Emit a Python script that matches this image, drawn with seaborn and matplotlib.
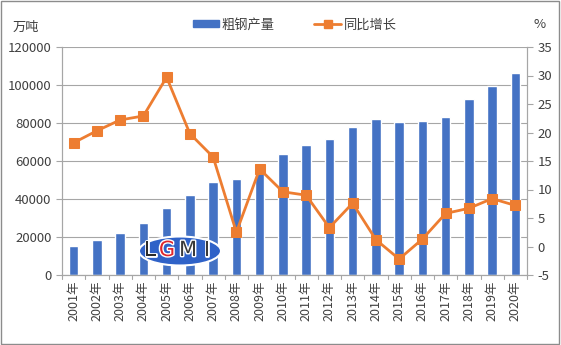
import numpy as np
import pandas as pd
import matplotlib
matplotlib.use("Agg")
import matplotlib.pyplot as plt
import matplotlib.patheffects as pe
from matplotlib.patches import Patch, Rectangle, Ellipse
from matplotlib.lines import Line2D
import seaborn as sns

years = ["2001年", "2002年", "2003年", "2004年", "2005年", "2006年", "2007年", "2008年", "2009年", "2010年",
         "2011年", "2012年", "2013年", "2014年", "2015年", "2016年", "2017年", "2018年", "2019年", "2020年"]
production = [15163, 18237, 22234, 27280, 35324, 42102, 48929, 50306, 57218, 63723,
              68528, 71654, 77904, 82270, 80383, 80837, 83173, 92826, 99634, 106477]
growth = [18.2, 20.3, 22.2, 22.9, 29.7, 19.8, 15.7, 2.5, 13.6, 9.6,
          9.0, 3.3, 7.6, 1.2, -2.2, 1.3, 5.8, 6.7, 8.4, 7.2]

left_ticks = [0, 20000, 40000, 60000, 80000, 100000, 120000]
right_ticks = [-5, 0, 5, 10, 15, 20, 25, 30, 35]

sns.set_theme(style="white")
plt.rcParams["font.family"] = ["Noto Sans CJK SC", "DejaVu Sans"]

BLUE = "#4472C4"
ORANGE = "#ED7D31"
GRID = "#A6A6A6"
TXT = "#404040"

df = pd.DataFrame({"year": years, "production": production, "growth": growth})
df["pos"] = np.arange(len(df))

W, H = 561, 345
fig = plt.figure(figsize=(W / 100, H / 100), dpi=100)
ax = fig.add_axes([62 / W, 1 - 275 / H, (527 - 62) / W, (275 - 47) / H])

sns.barplot(data=df, x="year", y="production", color=BLUE, width=0.4, ax=ax,
            saturation=1, zorder=2)
ax.set_ylim(0, 120000)
ax.set_yticks(left_ticks)
ax.set_yticklabels([str(v) for v in left_ticks])
ax.set_xlim(-0.5, len(years) - 0.5)
ax.yaxis.grid(True, color=GRID, linewidth=0.8, zorder=0)
ax.set_axisbelow(True)
ax.set_xlabel("")
ax.set_ylabel("")
ax.tick_params(axis="x", rotation=90, labelsize=9, colors=TXT, length=0, pad=4)
ax.tick_params(axis="y", labelsize=9.5, colors=TXT, length=4, width=0.8, direction="out",
               left=True, color=GRID)

ax2 = ax.twinx()
sns.lineplot(data=df, x="pos", y="growth", color=ORANGE, marker="s", markersize=6.5,
             markeredgecolor=ORANGE, linewidth=2, ax=ax2, zorder=5)
ax2.set_ylim(-5, 35)
ax2.set_yticks(right_ticks)
ax2.set_yticklabels([str(v) for v in right_ticks])
ax2.set_xlim(-0.5, len(years) - 0.5)
ax2.set_xlabel("")
ax2.set_ylabel("")
ax2.tick_params(axis="y", labelsize=9.5, colors=TXT, length=4, width=0.8, direction="out",
                right=True, color=GRID)

for a in (ax, ax2):
    a.spines["top"].set_visible(False)
    for s in ["left", "right", "bottom"]:
        a.spines[s].set_color(GRID)
        a.spines[s].set_linewidth(0.8)

# category boundary ticks on x axis
for b in np.arange(-0.5, len(years), 1.0):
    ax.plot([b, b], [0, -0.018], transform=ax.get_xaxis_transform(), color=GRID,
            linewidth=0.8, clip_on=False)

fig.text(13 / W, 1 - 27 / H, "万吨", fontsize=9.5, color=TXT, va="center", ha="left")
fig.text(533 / W, 1 - 25 / H, "%", fontsize=9.5, color=TXT, va="center", ha="left")

handles = [Patch(facecolor=BLUE, edgecolor=BLUE),
           Line2D([0], [0], color=ORANGE, linewidth=2, marker="s", markersize=6)]
fig.legend(handles, ["粗钢产量", "同比增长"], loc="center", bbox_to_anchor=(0.525, 1 - 25 / H),
           ncol=2, frameon=False, fontsize=9.5, handlelength=2.0, handleheight=0.45,
           handletextpad=0.2, columnspacing=3.0, labelcolor=TXT)

# watermark logo
fig.patches.append(Ellipse((180 / W, 1 - 251 / H), 82 / W, 29 / H, transform=fig.transFigure,
                           facecolor="#2F62C8", edgecolor="white", linewidth=1.5, zorder=10))
stroke = [pe.withStroke(linewidth=2, foreground="white")]
for ch, xx, col in [("L", 150, "#2B2B2B"), ("G", 167, "#E0262B"), ("M", 188, "#3A3A3A"), ("I", 207, "#3A3A3A")]:
    fig.text(xx / W, 1 - 250 / H, ch, fontsize=15, color=col,
             family="DejaVu Sans", ha="center", va="center", zorder=11, path_effects=stroke)

fig.patches.append(Rectangle((0.002, 0.003), 0.995, 0.994, transform=fig.transFigure,
                             fill=False, edgecolor="#8C8C8C", linewidth=1))

fig.savefig("out.png", dpi=100)
